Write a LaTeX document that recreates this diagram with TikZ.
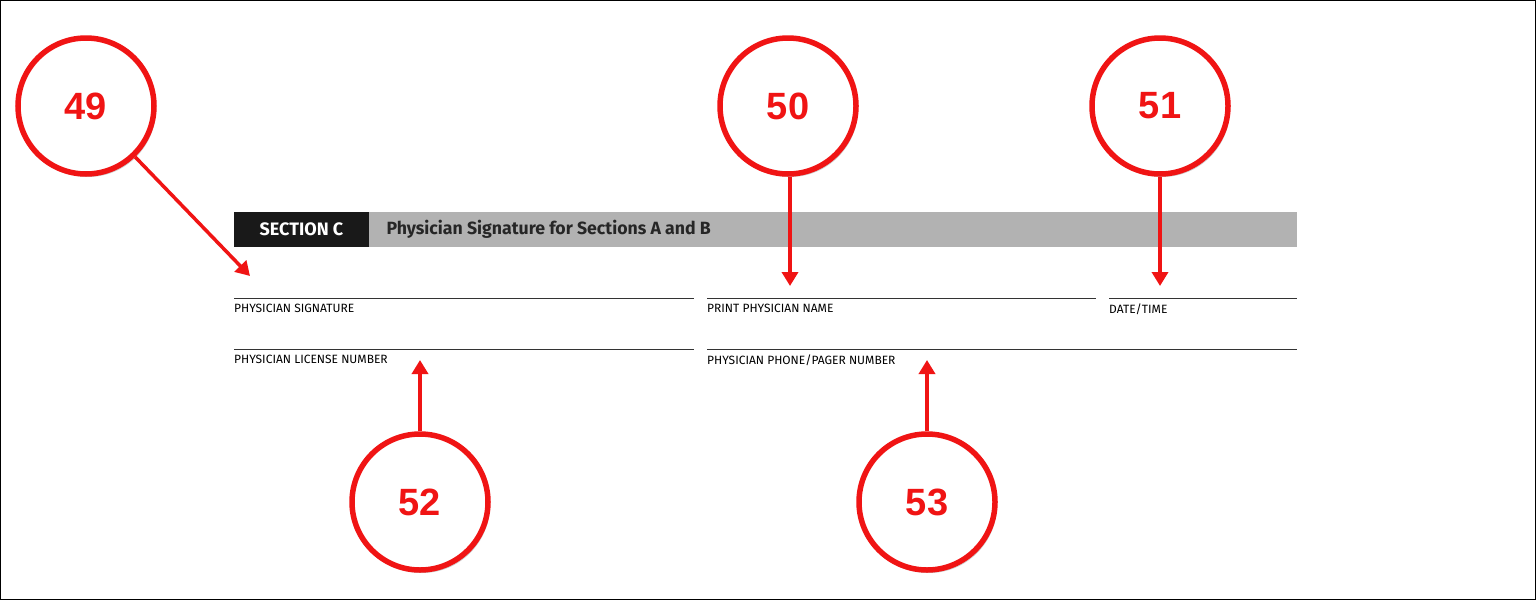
\documentclass[tikz,border=0pt]{standalone}
\usepackage{fontspec}
\setmainfont{Fira Sans}
\newfontfamily\numfont{Liberation Sans}
\usetikzlibrary{arrows.meta,shadows}
\definecolor{rd}{RGB}{240,20,20}
\begin{document}
\begin{tikzpicture}[x=1pt,y=-1pt,
 num/.style={circle,draw=rd,line width=5.5pt,fill=white,minimum size=136pt,text=rd,font=\numfont\fontsize{38}{38}\selectfont\bfseries,drop shadow={shadow xshift=2pt,shadow yshift=-3pt,opacity=0.4}},
 arr/.style={draw=rd,line width=3.5pt,-{Triangle[length=14pt,width=16pt]}},
 fl/.style={line width=0.6pt,draw=black!80},
 lab/.style={anchor=north west,inner sep=0pt,font=\fontsize{12}{12}\selectfont}]
\draw[fill=white,draw=black,line width=1pt] (0.5,0.5) rectangle (1535.5,599.5);
\fill[black!30] (234,212) rectangle (1297,247);
\fill[black!90] (234,212) rectangle (369,247);
\node[text=white,font=\fontsize{18}{18}\selectfont\bfseries] (sc) at (301.5,229.5) {SECTION C};
\node[anchor=west,text=black!85,font=\fontsize{17.7}{18}\selectfont\bfseries] (ht) at (383,229.5) {Physician Signature for Sections A and B};
\draw[fl] (234,298) -- (694,298); \draw[fl] (707,298) -- (1096,298); \draw[fl] (1109,298) -- (1297,298);
\draw[fl] (234,349) -- (694,349); \draw[fl] (707,349) -- (1297,349);
\node[lab] (l1) at (234,304) {PHYSICIAN SIGNATURE};
\node[lab] (l2) at (707,304) {PRINT PHYSICIAN NAME};
\node[lab] (l3) at (1109,304) {DATE/TIME};
\node[lab] (l4) at (234,355) {PHYSICIAN LICENSE NUMBER};
\node[lab] (l5) at (707,355) {PHYSICIAN PHONE/PAGER NUMBER};
\node[num] (c49) at (86,106) {49};
\node[num] (c50) at (788,106) {50};
\node[num] (c51) at (1160,106) {51};
\node[num] (c52) at (420,502) {52};
\node[num] (c53) at (927,502) {53};
\coordinate (t49) at (250,276);
\coordinate (t50) at (790,286);
\coordinate (t51) at (1160,286);
\coordinate (t52) at (420,360);
\coordinate (t53) at (927,360);
\draw[arr] (c49) -- (t49);
\draw[arr] (c50.south) ++(2,0) -- (t50);
\draw[arr] (c51) -- (t51);
\draw[arr] (c52) -- (t52);
\draw[arr] (c53) -- (t53);
\end{tikzpicture}
\end{document}
